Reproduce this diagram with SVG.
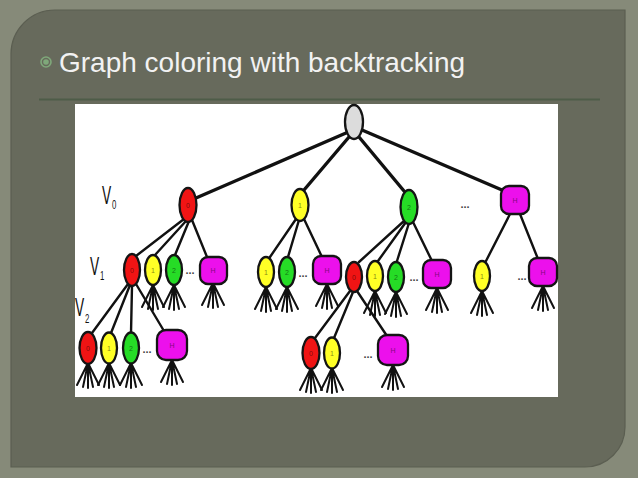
<svg xmlns="http://www.w3.org/2000/svg" xmlns:xlink="http://www.w3.org/1999/xlink" width="638" height="478" viewBox="0 0 638 478">
<style>
.e{stroke:#111;stroke-width:2.4;stroke-linecap:round;fill:none}
.er{stroke:#111;stroke-width:3.4;stroke-linecap:round;fill:none}
.n{stroke:#141414;stroke-width:2.3}
.r{fill:#f01414}.y{fill:#ffff26}.g{fill:#26dc26}.m{fill:#ec10ec}.gr{fill:#dcdcdc}
.lb{font-family:"Liberation Sans",Arial,sans-serif;font-size:7px;fill:#000;fill-opacity:0.5;text-anchor:middle}
.dt{font-family:"Liberation Sans",Arial,sans-serif;font-size:11px;font-weight:bold;fill:#444;text-anchor:middle}
.v{font-family:"Liberation Sans",Arial,sans-serif;font-size:25px;fill:#111}
.vs{font-family:"Liberation Sans",Arial,sans-serif;font-size:13px;fill:#111}
.fan{stroke:#111;stroke-width:2;stroke-linecap:round;fill:none}
</style>
<defs>
<path id="fan" class="fan" d="M0,0 L-11,22 M0,0 L-5,24 M0,0 L0,25 M0,0 L5,24 M0,0 L11,22"/>
</defs>
<rect width="638" height="478" fill="#868a79"/>
<path d="M11,54 A44,44 0 0 1 55,10 H625 V427 A40,40 0 0 1 585,467 H11 Z" fill="#676a5c" stroke="#5b5e51" stroke-width="1.2"/>
<circle cx="46" cy="62" r="5" fill="none" stroke="#7fa87a" stroke-width="1.6"/>
<circle cx="46" cy="62" r="2.8" fill="#7fa87a"/>
<text x="59" y="72" font-family="'Liberation Sans',Arial,sans-serif" font-size="28" fill="#f2f2f2">Graph coloring with backtracking</text>
<line x1="39" y1="99.5" x2="600" y2="99.5" stroke="#4e5c48" stroke-width="2"/>
<rect x="75" y="104" width="483" height="293" fill="#ffffff"/>
<g id="levels">
<text class="v" transform="translate(102,204) scale(0.55,1)">V</text>
<text class="vs" transform="translate(112,209) scale(0.6,1)">0</text>
<text class="v" transform="translate(90,275) scale(0.55,1)">V</text>
<text class="vs" transform="translate(100,280) scale(0.6,1)">1</text>
<text class="v" transform="translate(75,316) scale(0.55,1)">V</text>
<text class="vs" transform="translate(85,323) scale(0.6,1)">2</text>
</g>
<g id="connectors">
<path class="er" d="M346,133 L196,198 M349,137 L304,190 M359,137 L404,191 M362,130 L502,190"/>
<path class="e" d="M184,219 L136,256 M186,221 L155,255 M189,221 L175,255 M192,220 L207,257"/>
<path class="e" d="M296,219 L270,257 M299,220 L288,257 M304,219 L322,257"/>
<path class="e" d="M404,221 L359,262 M406,222 L378,261 M409,223 L397,261 M413,222 L432,261"/>
<path class="e" d="M510,214 L486,261 M520,214 L538,259"/>
<path class="e" d="M128,284 L92,333 M130,285 L111,333 M132,286 L131,333 M136,284 L164,331"/>
<path class="e" d="M350,291 L315,338 M353,292 L334,338 M357,291 L387,336"/>
<use xlink:href="#fan" x="153" y="285"/>
<use xlink:href="#fan" x="174" y="285"/>
<use xlink:href="#fan" x="213" y="283"/>
<use xlink:href="#fan" x="266" y="287"/>
<use xlink:href="#fan" x="287" y="287"/>
<use xlink:href="#fan" x="327" y="284"/>
<use xlink:href="#fan" x="375" y="291"/>
<use xlink:href="#fan" x="396" y="292"/>
<use xlink:href="#fan" x="437" y="288"/>
<use xlink:href="#fan" x="482" y="291"/>
<use xlink:href="#fan" x="543" y="286"/>
<use xlink:href="#fan" x="88" y="363"/>
<use xlink:href="#fan" x="109" y="363"/>
<use xlink:href="#fan" x="131" y="363"/>
<use xlink:href="#fan" x="172" y="360"/>
<use xlink:href="#fan" x="311" y="368"/>
<use xlink:href="#fan" x="332" y="368"/>
<use xlink:href="#fan" x="393" y="365"/>
</g>
<g id="root"><ellipse class="n gr" cx="354" cy="122" rx="9" ry="17"/></g>
<g id="v0-red"><ellipse class="n r" cx="188" cy="205" rx="8.5" ry="17"/><text class="lb" x="188" y="208">0</text></g>
<g id="v0-yellow"><ellipse class="n y" cx="300" cy="205" rx="8.5" ry="16"/><text class="lb" x="300" y="208">1</text></g>
<g id="v0-green"><ellipse class="n g" cx="409" cy="207" rx="8.5" ry="17"/><text class="lb" x="409" y="210">2</text></g>
<g id="v0-dots"><text class="dt" x="465" y="208">...</text></g>
<g id="v0-mag"><rect class="n m" x="501" y="186" width="28" height="28" rx="8"/><text class="lb" x="515" y="203">H</text></g>

<g id="a-red"><ellipse class="n r" cx="132" cy="270" rx="8" ry="16"/><text class="lb" x="132" y="273">0</text></g>
<g id="a-yellow"><ellipse class="n y" cx="153" cy="270" rx="8" ry="15"/><text class="lb" x="153" y="273">1</text></g>
<g id="a-green"><ellipse class="n g" cx="174" cy="270" rx="8" ry="15"/><text class="lb" x="174" y="273">2</text></g>
<g id="a-dots"><text class="dt" x="190" y="274">...</text></g>
<g id="a-mag"><rect class="n m" x="200" y="257" width="27" height="27" rx="8"/><text class="lb" x="213" y="273">H</text></g>

<g id="b-yellow"><ellipse class="n y" cx="266" cy="272" rx="8" ry="15"/><text class="lb" x="266" y="275">1</text></g>
<g id="b-green"><ellipse class="n g" cx="287" cy="272" rx="8" ry="15"/><text class="lb" x="287" y="275">2</text></g>
<g id="b-dots"><text class="dt" x="303" y="277">...</text></g>
<g id="b-mag"><rect class="n m" x="313" y="256" width="28" height="28" rx="8"/><text class="lb" x="327" y="273">H</text></g>

<g id="c-red"><ellipse class="n r" cx="354" cy="277" rx="8" ry="15"/><text class="lb" x="354" y="280">0</text></g>
<g id="c-yellow"><ellipse class="n y" cx="375" cy="276" rx="8" ry="15"/><text class="lb" x="375" y="279">1</text></g>
<g id="c-green"><ellipse class="n g" cx="396" cy="277" rx="8" ry="15"/><text class="lb" x="396" y="280">2</text></g>
<g id="c-dots"><text class="dt" x="414" y="281">...</text></g>
<g id="c-mag"><rect class="n m" x="423" y="260" width="28" height="28" rx="8"/><text class="lb" x="437" y="277">H</text></g>

<g id="d-yellow"><ellipse class="n y" cx="482" cy="276" rx="8" ry="15"/><text class="lb" x="482" y="279">1</text></g>
<g id="d-dots"><text class="dt" x="522" y="280">...</text></g>
<g id="d-mag"><rect class="n m" x="529" y="258" width="28" height="28" rx="8"/><text class="lb" x="543" y="275">H</text></g>

<g id="e-red"><ellipse class="n r" cx="88" cy="348" rx="8.5" ry="16"/><text class="lb" x="88" y="351">0</text></g>
<g id="e-yellow"><ellipse class="n y" cx="109" cy="348" rx="8" ry="15.5"/><text class="lb" x="109" y="351">1</text></g>
<g id="e-green"><ellipse class="n g" cx="131" cy="348" rx="8" ry="15.5"/><text class="lb" x="131" y="351">2</text></g>
<g id="e-dots"><text class="dt" x="147" y="353">...</text></g>
<g id="e-mag"><rect class="n m" x="157" y="330" width="30" height="30" rx="9"/><text class="lb" x="172" y="348">H</text></g>

<g id="f-red"><ellipse class="n r" cx="311" cy="353" rx="8.5" ry="16"/><text class="lb" x="311" y="356">0</text></g>
<g id="f-yellow"><ellipse class="n y" cx="332" cy="353" rx="8" ry="15.5"/><text class="lb" x="332" y="356">1</text></g>
<g id="f-dots"><text class="dt" x="368" y="358">...</text></g>
<g id="f-mag"><rect class="n m" x="378" y="335" width="30" height="30" rx="9"/><text class="lb" x="393" y="353">H</text></g>
</svg>
